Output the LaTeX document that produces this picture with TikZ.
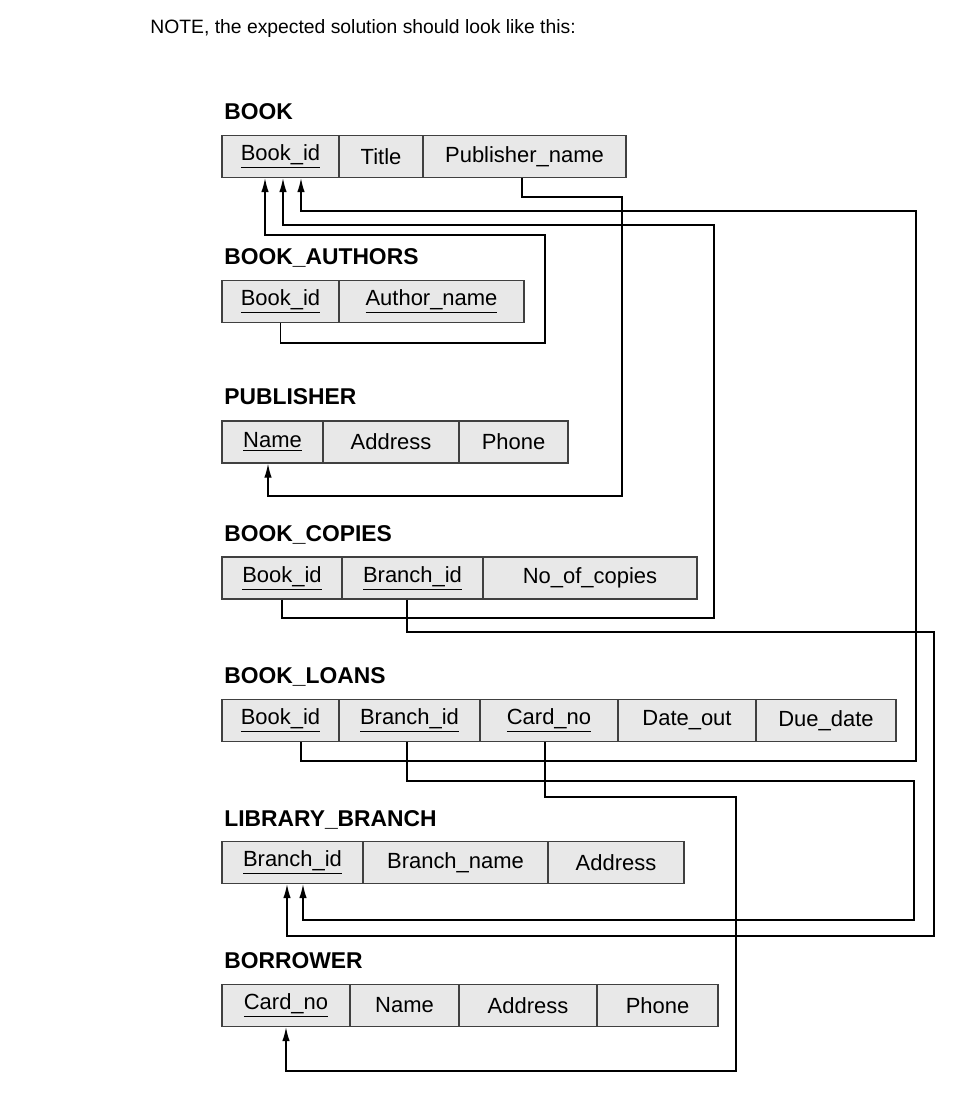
\documentclass[tikz,border=0pt]{standalone}
\usepackage{fontspec}
\setmainfont{Liberation Sans}
\usetikzlibrary{arrows.meta,positioning}
\tikzset{
  cell/.style={
    rectangle,
    draw=black!75, line width=0.8pt,
    fill=black!9,
    minimum height=0.84cm,
    inner sep=0pt,
    font=\fontsize{12.5}{14}\selectfont},
  relname/.style={anchor=base west, inner sep=0pt,
    font=\fontsize{13}{15}\selectfont\bfseries},
  fk/.style={draw, line width=0.7pt, -{Latex[length=0.28cm,width=0.15cm]}},
}
\begin{document}
\begin{tikzpicture}[x=0.02cm,y=-0.02cm]
  \useasboundingbox (0,0) rectangle (956,1113);

  \node[anchor=base west, inner sep=0pt, font=\fontsize{11}{13}\selectfont] (note) at (150,33)
       {NOTE, the expected solution should look like this:};

  % BOOK
  \node[relname] (t_book) at (224,119) {BOOK};
  \node[cell, minimum width=2.34cm] (bk_id) at (280.5,156.5) {\underline{Book\_id}};
  \node[cell, minimum width=1.68cm] (bk_title) at (381,156.5) {Title};
  \node[cell, minimum width=4.06cm] (bk_pub) at (524.5,156.5) {Publisher\_name};

  % BOOK_AUTHORS
  \node[relname] (t_ba) at (224,264) {BOOK\_AUTHORS};
  \node[cell, minimum width=2.34cm] (ba_id) at (280.5,301.5) {\underline{Book\_id}};
  \node[cell, minimum width=3.70cm] (ba_name) at (431.5,301.5) {\underline{Author\_name}};

  % PUBLISHER
  \node[relname] (t_pub) at (224,404) {PUBLISHER};
  \node[cell, minimum width=2.02cm] (p_name) at (272.5,442) {\underline{Name}};
  \node[cell, minimum width=2.72cm] (p_addr) at (391,442) {Address};
  \node[cell, minimum width=2.18cm] (p_phone) at (513.5,442) {Phone};

  % BOOK_COPIES
  \node[relname] (t_bc) at (224,541) {BOOK\_COPIES};
  \node[cell, minimum width=2.40cm] (bc_id) at (282,578) {\underline{Book\_id}};
  \node[cell, minimum width=2.82cm] (bc_br) at (412.5,578) {\underline{Branch\_id}};
  \node[cell, minimum width=4.28cm] (bc_no) at (590,578) {No\_of\_copies};

  % BOOK_LOANS
  \node[relname] (t_bl) at (224,683) {BOOK\_LOANS};
  \node[cell, minimum width=2.34cm] (bl_id) at (280.5,720.5) {\underline{Book\_id}};
  \node[cell, minimum width=2.82cm] (bl_br) at (409.5,720.5) {\underline{Branch\_id}};
  \node[cell, minimum width=2.76cm] (bl_card) at (549,720.5) {\underline{Card\_no}};
  \node[cell, minimum width=2.76cm] (bl_out) at (687,720.5) {Date\_out};
  \node[cell, minimum width=2.80cm] (bl_due) at (826,720.5) {Due\_date};

  % LIBRARY_BRANCH
  \node[relname] (t_lb) at (224,826) {LIBRARY\_BRANCH};
  \node[cell, minimum width=2.82cm] (lb_id) at (292.5,862.5) {\underline{Branch\_id}};
  \node[cell, minimum width=3.70cm] (lb_name) at (455.5,862.5) {Branch\_name};
  \node[cell, minimum width=2.72cm] (lb_addr) at (616,862.5) {Address};

  % BORROWER
  \node[relname] (t_br) at (224,968) {BORROWER};
  \node[cell, minimum width=2.56cm] (br_card) at (286,1005.5) {\underline{Card\_no}};
  \node[cell, minimum width=2.18cm] (br_name) at (404.5,1005.5) {Name};
  \node[cell, minimum width=2.76cm] (br_addr) at (528,1005.5) {Address};
  \node[cell, minimum width=2.42cm] (br_phone) at (657.5,1005.5) {Phone};

  % foreign keys
  \draw[fk] (ba_id.south) |- (545,343) -- (545,235) -| ([xshift=-0.31cm]bk_id.south);
  \draw[fk] ([xshift=-0.05cm]bk_pub.south) |- (622,197) -- (622,496) -| ([xshift=-0.09cm]p_name.south);
  \draw[fk] (bc_id.south) |- (714,618) -- (714,225) -| ([xshift=0.05cm]bk_id.south);
  \draw[fk] ([xshift=-0.11cm]bc_br.south) |- (934,632) -- (934,936) -| ([xshift=-0.11cm]lb_id.south);
  \draw[fk] ([xshift=0.41cm]bl_id.south) |- (916,761) -- (916,211) -| ([xshift=0.41cm]bk_id.south);
  \draw[fk] ([xshift=-0.05cm]bl_br.south) |- (914,781) -- (914,920) -| ([xshift=0.21cm]lb_id.south);
  \draw[fk] ([xshift=-0.08cm]bl_card.south) |- (736,797) -- (736,1071) -| (br_card.south);

\end{tikzpicture}
\end{document}
